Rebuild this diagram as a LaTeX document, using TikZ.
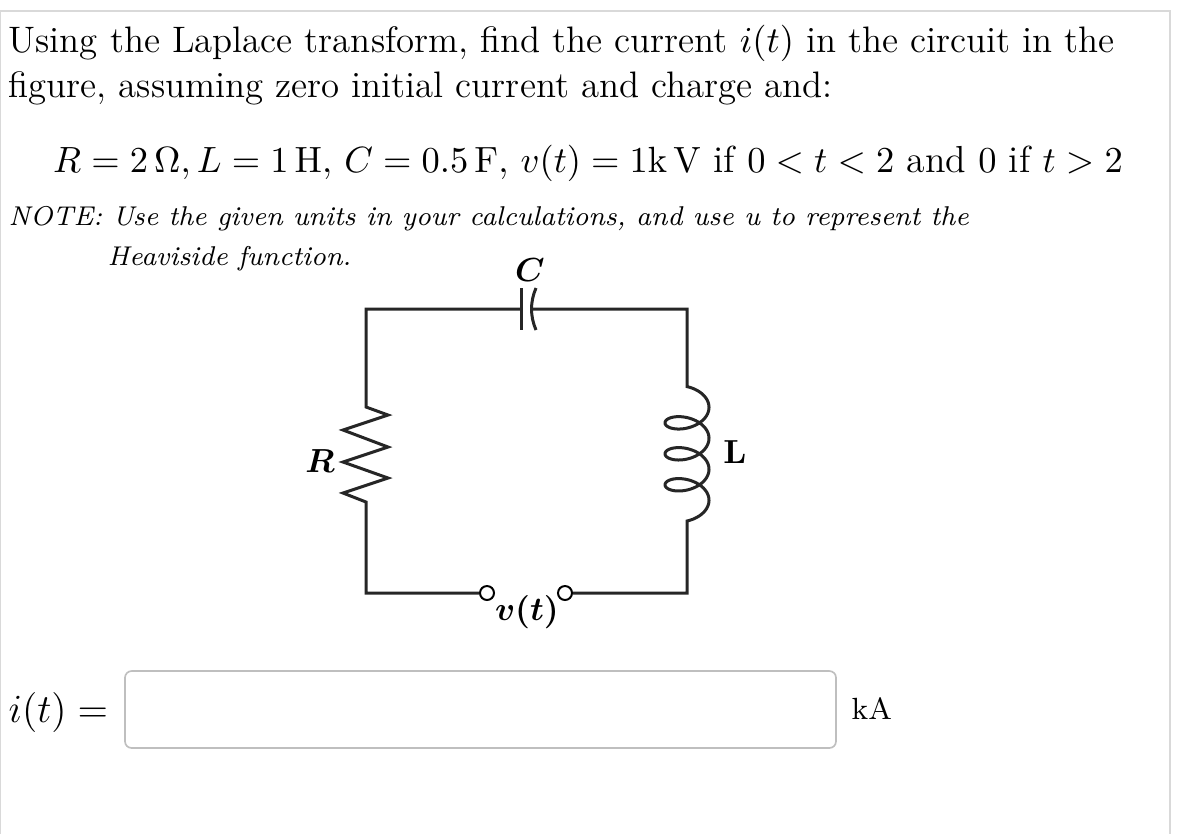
\documentclass[tikz,border=0pt]{standalone}
\usepackage{amsmath,bm}
\begin{document}
\begin{tikzpicture}[x=0.3pt,y=-0.3pt,
  wire/.style={line width=0.9pt,line join=miter,color=black!85},
  txt/.style={anchor=base west,inner sep=0pt}]
\useasboundingbox (0,0) rectangle (1186,834);
\draw[black!15,line width=0.4pt] (0,834) -- (0,11) -- (1170,11) -- (1170,834);
\node[txt,font=\fontsize{11.05}{13}\selectfont] (l1) at (8,52) {Using the Laplace transform, find the current $i(t)$ in the circuit in the};
\node[txt,font=\fontsize{11.05}{13}\selectfont] (l2) at (8,97) {figure, assuming zero initial current and charge and:};
\node[anchor=base,inner sep=0pt,font=\fontsize{11.3}{13}\selectfont] (eq) at (588,172) {$R=2\,\Omega, L=1\,\mathrm{H},\, C=0.5\,\mathrm{F},\, v(t)=1\mathrm{k}\,\mathrm{V}$ if $0<t<2$ and $0$ if $t>2$};
\node[txt,font=\fontsize{8.15}{9}\selectfont\itshape] (n1) at (8,225) {NOTE: Use the given units in your calculations, and use u to represent the};
\node[txt,font=\fontsize{8.15}{9}\selectfont\itshape] (n2) at (107,265) {Heaviside function.};
% circuit
\coordinate (tl) at (366,309); \coordinate (tr) at (687,309);
\coordinate (bl) at (366,593); \coordinate (br) at (687,593);
\coordinate (c1) at (521,309); \coordinate (c2) at (533,309);
\node[circle,draw,line width=0.6pt,minimum size=4.2pt,inner sep=0pt] (t1) at (487,593) {};
\node[circle,draw,line width=0.6pt,minimum size=4.2pt,inner sep=0pt] (t2) at (565,593) {};
\draw[wire] (c1) -- (tl) -- (366,407) -- (388,415) -- (343,430) -- (388,447) -- (343,462) -- (388,478) -- (343,493) -- (366,502) -- (bl) -- (t1.west);
\draw[wire] (t2.east) -- (br) -- (687,521)
  -- plot[domain=0:7*pi,samples=240,variable=\t,smooth] ({687+22*sin(\t r)},{521-4.93*\t-13*(1-cos(\t r))})
  -- (tr) -- (c2);
\draw[wire] (521,288) -- (521,330);
\draw[wire] (536,288) .. controls (530,302) and (530,316) .. (536,330);
\node (lc) at (530,270) {$\bm{C}$};
\node (lr) at (320,461) {$\bm{R}$};
\node (ll) at (735,452) {\bfseries L};
\node (lv) at (527,612) {$\bm{v(t)}$};
% answer
\node[txt,font=\fontsize{12.5}{14}\selectfont] (it) at (8,722) {$i(t)=$};
\draw[black!25,line width=0.5pt,rounded corners=2pt] (125,671) rectangle (836,748);
\node[txt,font=\fontsize{9.2}{11}\selectfont] (ka) at (851,719) {kA};
\end{tikzpicture}
\end{document}
